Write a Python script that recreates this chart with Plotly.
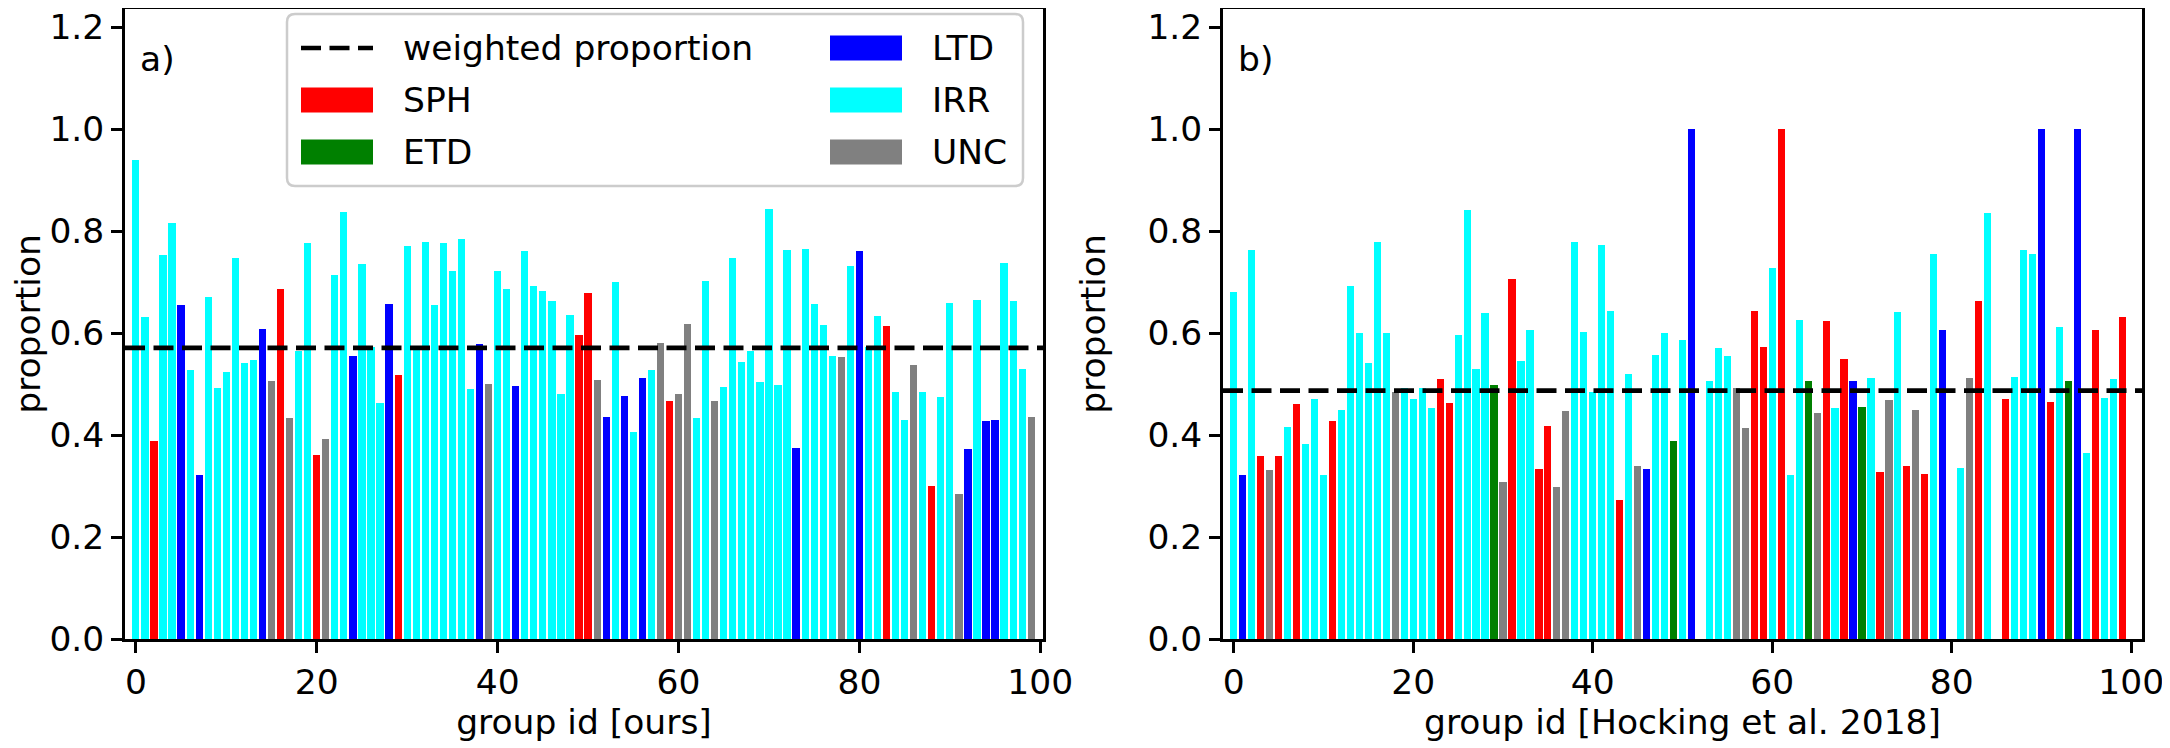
import pandas as pd
import plotly.graph_objects as go
from plotly.subplots import make_subplots

# group ids 0..99 for both panels
GROUP_IDS = list(range(100))

# panel a) proportion per group [ours]
PROP_A = [
    0.939, 0.632, 0.388, 0.753, 0.816, 0.655, 0.527, 0.321, 0.671, 0.493,
    0.523, 0.748, 0.542, 0.547, 0.607, 0.506, 0.686, 0.433, 0.565, 0.776,
    0.360, 0.392, 0.714, 0.837, 0.555, 0.736, 0.573, 0.463, 0.657, 0.517,
    0.770, 0.575, 0.778, 0.655, 0.777, 0.722, 0.784, 0.490, 0.578, 0.500,
    0.722, 0.686, 0.496, 0.761, 0.692, 0.682, 0.662, 0.480, 0.635, 0.597,
    0.678, 0.508, 0.436, 0.700, 0.476, 0.406, 0.511, 0.527, 0.580, 0.466,
    0.480, 0.618, 0.433, 0.702, 0.467, 0.495, 0.748, 0.543, 0.565, 0.504,
    0.844, 0.499, 0.763, 0.374, 0.764, 0.656, 0.615, 0.555, 0.552, 0.731,
    0.761, 0.572, 0.633, 0.614, 0.484, 0.430, 0.537, 0.485, 0.300, 0.474,
    0.658, 0.284, 0.373, 0.664, 0.427, 0.429, 0.737, 0.663, 0.530, 0.435,
]
CLASS_A = [
    "IRR", "IRR", "SPH", "IRR", "IRR", "LTD", "IRR", "LTD", "IRR", "IRR",
    "IRR", "IRR", "IRR", "IRR", "LTD", "UNC", "SPH", "UNC", "IRR", "IRR",
    "SPH", "UNC", "IRR", "IRR", "LTD", "IRR", "IRR", "IRR", "LTD", "SPH",
    "IRR", "IRR", "IRR", "IRR", "IRR", "IRR", "IRR", "IRR", "LTD", "UNC",
    "IRR", "IRR", "LTD", "IRR", "IRR", "IRR", "IRR", "IRR", "IRR", "SPH",
    "SPH", "UNC", "LTD", "IRR", "LTD", "IRR", "LTD", "IRR", "UNC", "SPH",
    "UNC", "UNC", "IRR", "IRR", "UNC", "IRR", "IRR", "IRR", "IRR", "IRR",
    "IRR", "IRR", "IRR", "LTD", "IRR", "IRR", "IRR", "IRR", "UNC", "IRR",
    "LTD", "IRR", "IRR", "SPH", "IRR", "IRR", "UNC", "IRR", "SPH", "IRR",
    "IRR", "UNC", "LTD", "IRR", "LTD", "LTD", "IRR", "IRR", "IRR", "UNC",
]
WEIGHTED_A = 0.571

# panel b) proportion per group [Hocking et al. 2018], None = no bar
PROP_B = [
    0.680, 0.321, 0.763, 0.358, 0.331, 0.359, 0.416, 0.461, 0.383, 0.470,
    0.321, 0.427, 0.450, 0.693, 0.600, 0.541, 0.778, 0.600, 0.484, 0.493,
    0.470, 0.493, 0.452, 0.509, 0.462, 0.597, 0.842, 0.529, 0.640, 0.499,
    0.307, 0.705, 0.546, 0.605, 0.333, 0.418, 0.299, 0.448, 0.778, 0.601,
    0.485, 0.773, 0.643, 0.272, 0.520, 0.339, 0.333, 0.556, 0.600, 0.388,
    0.586, 1.000, None, 0.506, 0.571, 0.554, 0.492, 0.414, 0.644, 0.573,
    0.727, 1.000, 0.321, 0.625, 0.506, 0.444, 0.624, 0.452, 0.550, 0.506,
    0.454, 0.511, 0.327, 0.468, 0.642, 0.339, 0.449, 0.324, 0.754, 0.606,
    None, 0.335, 0.512, 0.662, 0.836, None, 0.471, 0.513, 0.763, 0.754,
    1.000, 0.465, 0.612, 0.506, 1.000, 0.364, 0.606, 0.473, 0.509, 0.631,
]
CLASS_B = [
    "IRR", "LTD", "IRR", "SPH", "UNC", "SPH", "IRR", "SPH", "IRR", "IRR",
    "IRR", "SPH", "IRR", "IRR", "IRR", "IRR", "IRR", "IRR", "UNC", "IRR",
    "IRR", "IRR", "IRR", "SPH", "SPH", "IRR", "IRR", "IRR", "IRR", "ETD",
    "UNC", "SPH", "IRR", "IRR", "SPH", "SPH", "UNC", "UNC", "IRR", "IRR",
    "IRR", "IRR", "IRR", "SPH", "IRR", "UNC", "LTD", "IRR", "IRR", "ETD",
    "IRR", "LTD", None, "IRR", "IRR", "IRR", "UNC", "UNC", "SPH", "SPH",
    "IRR", "SPH", "IRR", "IRR", "ETD", "UNC", "SPH", "IRR", "SPH", "LTD",
    "ETD", "IRR", "SPH", "UNC", "IRR", "SPH", "UNC", "SPH", "IRR", "LTD",
    None, "IRR", "UNC", "SPH", "IRR", None, "SPH", "IRR", "IRR", "IRR",
    "LTD", "SPH", "IRR", "ETD", "LTD", "IRR", "SPH", "IRR", "IRR", "SPH",
]
WEIGHTED_B = 0.487

CLASSES = ["SPH", "ETD", "LTD", "IRR", "UNC"]
COLORS = {"SPH": "#ff0000", "ETD": "#008000", "LTD": "#0000ff",
          "IRR": "#00ffff", "UNC": "#808080"}
Y_TICKS = [0.0, 0.2, 0.4, 0.6, 0.8, 1.0, 1.2]
X_TICKS = [0, 20, 40, 60, 80, 100]

FONT = "DejaVu Sans"
FS = 34.5
# page body adds an 8px offset, so the figure is a bit smaller than the window
OFF = 8
W, H = 2170 - OFF, 748 - OFF
ML, MR, MT, MB = 117, 28, 1, 109
PW = W - ML - MR
PH = H - MT - MB

fig = make_subplots(rows=1, cols=2, horizontal_spacing=0.09)

panels = [
    (pd.DataFrame({"group": GROUP_IDS, "p": PROP_A, "cls": CLASS_A}), WEIGHTED_A, 1),
    (pd.DataFrame({"group": GROUP_IDS, "p": PROP_B, "cls": CLASS_B}), WEIGHTED_B, 2),
]
for df, weighted, col in panels:
    for c in CLASSES:
        sub = df[df["cls"] == c]
        fig.add_trace(
            go.Bar(x=sub["group"], y=sub["p"], width=0.8, name=c,
                   marker=dict(color=COLORS[c], line_width=0),
                   showlegend=False),
            row=1, col=col,
        )
    # weighted proportion line
    fig.add_hline(y=weighted, line=dict(color="black", width=4.7, dash="20px,8.5px"),
                  row=1, col=col)

title_font = dict(family=FONT, size=FS, color="black")
axis_style = dict(
    showline=True, linecolor="black", linewidth=2.6, mirror=True,
    ticks="outside", ticklen=11, tickwidth=2.6, tickcolor="black",
    showgrid=False, zeroline=False, automargin=False,
    ticklabeloverflow="allow", tickfont=title_font,
)
fig.update_xaxes(**axis_style, tickvals=X_TICKS)
fig.update_yaxes(**axis_style, tickvals=Y_TICKS, tickformat=".1f",
                 range=[0, PH / 510],
                 title=dict(text="proportion", font=title_font, standoff=32))
fig.update_xaxes(range=[-1.2, 100.3], domain=[0, 918 / PW], row=1, col=1,
                 title=dict(text="group id [ours]", font=title_font, standoff=9))
fig.update_xaxes(range=[-1.2, 101.2], domain=[(1223 - OFF - ML) / PW, 1], row=1, col=2,
                 title=dict(text="group id [Hocking et al. 2018]", font=title_font, standoff=9))

# panel letters
for ref, lbl in [("x", "a)"), ("x2", "b)")]:
    fig.add_annotation(text=lbl, xref=ref + " domain", yref="y domain", x=0.014, y=0.92,
                       xanchor="left", yanchor="middle", showarrow=False,
                       font=title_font)


# legend drawn in panel a, positions in window pixels
def fx(p):
    return (p - OFF - ML) / PW


def fy(p):
    return (OFF + H - MB - p) / PH


bx0, bx1, by0, by1, r = 287, 1023, 14, 186, 8
rx, ry = r / PW, r / PH
X0, X1, Y0, Y1 = fx(bx0), fx(bx1), fy(by1), fy(by0)
path = (f"M{X0 + rx},{Y0} L{X1 - rx},{Y0} Q{X1},{Y0} {X1},{Y0 + ry} "
        f"L{X1},{Y1 - ry} Q{X1},{Y1} {X1 - rx},{Y1} L{X0 + rx},{Y1} "
        f"Q{X0},{Y1} {X0},{Y1 - ry} L{X0},{Y0 + ry} Q{X0},{Y0} {X0 + rx},{Y0} Z")
fig.add_shape(type="path", path=path, xref="paper", yref="paper",
              fillcolor="rgba(255,255,255,0.8)", line=dict(color="#cccccc", width=2.5))

legend_items = [
    ("weighted proportion", None, 301, 401, 48),
    ("SPH", "SPH", 301, 401, 100),
    ("ETD", "ETD", 301, 401, 152),
    ("LTD", "LTD", 830, 930, 48),
    ("IRR", "IRR", 830, 930, 100),
    ("UNC", "UNC", 830, 930, 152),
]
for text, cls, px0, tx, cy in legend_items:
    if cls is None:
        fig.add_shape(type="line", xref="paper", yref="paper",
                      x0=fx(px0), x1=fx(px0 + 72), y0=fy(cy), y1=fy(cy),
                      line=dict(color="black", width=4.7, dash="20px,8.5px"))
    else:
        fig.add_shape(type="rect", xref="paper", yref="paper",
                      x0=fx(px0), x1=fx(px0 + 72), y0=fy(cy + 12.5), y1=fy(cy - 12.5),
                      fillcolor=COLORS[cls], line_width=0)
    fig.add_annotation(text=text, xref="paper", yref="paper", x=fx(tx), y=fy(cy),
                       xanchor="left", yanchor="middle", showarrow=False,
                       font=title_font)

fig.update_layout(
    width=W, height=H, autosize=False,
    margin=dict(l=ML, r=MR, t=MT, b=MB),
    barmode="overlay", bargap=0,
    plot_bgcolor="white", paper_bgcolor="white",
    showlegend=False,
    font=dict(family=FONT, size=FS, color="black"),
)

fig.write_html("out.html")
